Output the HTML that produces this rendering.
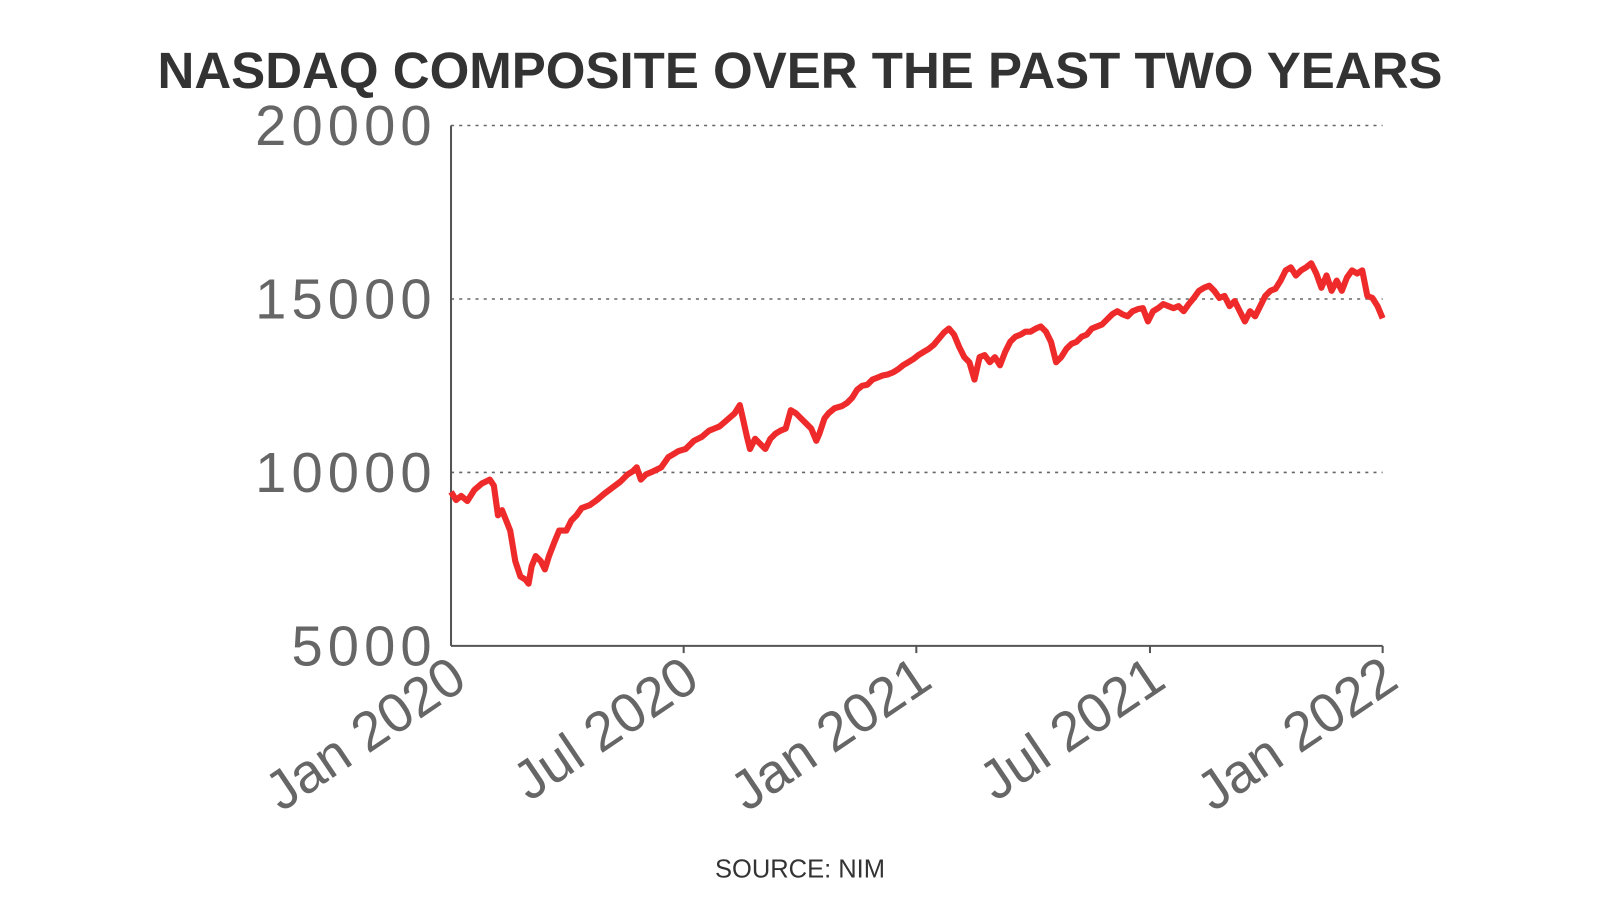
<!DOCTYPE html>
<html><head><meta charset="utf-8"><style>
html,body{margin:0;padding:0;background:#fff;}
svg{display:block;}
</style></head><body>
<svg width="1600" height="900" viewBox="0 0 1600 900" xmlns="http://www.w3.org/2000/svg" font-family="Liberation Sans, sans-serif">
<g transform="scale(1.0204)">
<text x="784" y="86" text-anchor="middle" font-size="50" font-weight="bold" fill="#333">NASDAQ COMPOSITE OVER THE PAST TWO YEARS</text>
<g stroke="#666" stroke-width="1.5" stroke-dasharray="3,5">
<line x1="442" y1="123" x2="1355" y2="123"/>
<line x1="442" y1="293" x2="1355" y2="293"/>
<line x1="442" y1="463" x2="1355" y2="463"/>
</g>
<g stroke="#555" stroke-width="2">
<line x1="442" y1="123" x2="442" y2="633"/>
<line x1="442" y1="633" x2="1355" y2="633"/>
<line x1="670" y1="633" x2="670" y2="640"/>
<line x1="898" y1="633" x2="898" y2="640"/>
<line x1="1127" y1="633" x2="1127" y2="640"/>
<line x1="1355" y1="633" x2="1355" y2="640"/>
</g>
<g font-size="55" fill="#666" text-anchor="end" letter-spacing="5">
<text x="428" y="142">20000</text>
<text x="428" y="312">15000</text>
<text x="428" y="482">10000</text>
<text x="428" y="652">5000</text>
</g>
<g font-size="54" fill="#666" text-anchor="end">
<text transform="translate(460,672) rotate(-34)">Jan 2020</text>
<text transform="translate(688,672) rotate(-34)">Jul 2020</text>
<text transform="translate(916,672) rotate(-34)">Jan 2021</text>
<text transform="translate(1145,672) rotate(-34)">Jul 2021</text>
<text transform="translate(1373,672) rotate(-34)">Jan 2022</text>
</g>
<polyline fill="none" stroke="#ee2a2a" stroke-width="6" stroke-linejoin="round" points="442,482 447,490 452,486 458,491 465,480 472,474 480,470 484,476 488,505 492,500 496,510 500,520 505,550 510,565 515,568 518,572 521,555 525,545 530,550 534,558 538,545 543,532 548,520 555,520 560,510 565,505 570,498 578,495 585,490 592,484 600,478 608,472 615,465 620,462 624,458 628,470 633,465 640,462 648,458 655,448 660,445 665,442 672,440 680,432 688,428 695,422 700,420 705,418 712,412 720,405 725,397 728,410 732,428 735,440 740,430 745,435 750,440 755,430 760,425 765,422 770,420 775,402 780,405 785,410 790,415 795,420 800,432 803,425 808,410 812,405 818,400 825,398 830,395 835,390 840,382 845,378 850,377 855,372 860,370 865,368 870,367 875,365 880,362 885,358 890,355 895,352 900,348 905,345 910,342 915,338 920,332 925,326 930,322 935,328 940,340 945,350 950,355 955,372 960,350 965,348 970,355 975,350 980,358 985,345 990,335 995,330 1000,328 1005,325 1010,325 1015,322 1020,320 1025,325 1030,335 1035,355 1040,350 1045,342 1050,337 1055,335 1060,330 1065,328 1070,322 1075,320 1080,318 1085,313 1090,308 1095,305 1100,308 1105,310 1110,305 1115,303 1120,302 1125,315 1130,305 1135,302 1140,298 1145,300 1150,302 1155,300 1160,305 1165,298 1170,292 1175,285 1180,282 1185,280 1190,285 1195,292 1200,290 1205,300 1210,295 1215,305 1220,315 1225,305 1230,310 1235,300 1240,290 1245,285 1250,283 1255,275 1260,265 1265,262 1270,270 1275,265 1280,262 1285,258 1290,268 1295,282 1300,270 1305,285 1310,275 1315,285 1320,272 1325,265 1330,268 1335,265 1340,290 1345,292 1350,300 1355,312"/>
<text x="784" y="860" text-anchor="middle" font-size="25" fill="#333">SOURCE: NIM</text>
</g>
</svg>
</body></html>
